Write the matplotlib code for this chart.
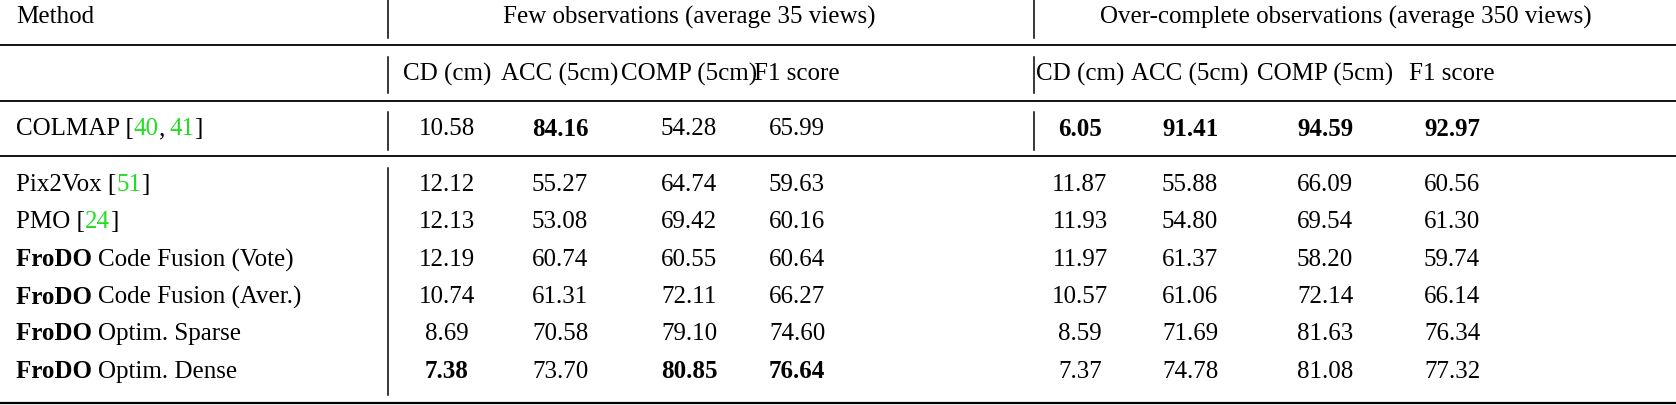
import matplotlib.pyplot as plt

methods = ["COLMAP", "Pix2Vox", "PMO", "Code Fusion (Vote)", "Code Fusion (Aver.)",
           "Optim. Sparse", "Optim. Dense"]
refs = [["40", "41"], ["51"], ["24"], None, None, None, None]
frodo = [False, False, False, True, True, True, True]
cols = ["CD (cm)", "ACC (5cm)", "COMP (5cm)", "F1 score"] * 2
groups = ["Few observations (average 35 views)",
          "Over-complete observations (average 350 views)"]
values = [
    [10.58, 84.16, 54.28, 65.99, 6.05, 91.41, 94.59, 92.97],
    [12.12, 55.27, 64.74, 59.63, 11.87, 55.88, 66.09, 60.56],
    [12.13, 53.08, 69.42, 60.16, 11.93, 54.80, 69.54, 61.30],
    [12.19, 60.74, 60.55, 60.64, 11.97, 61.37, 58.20, 59.74],
    [10.74, 61.31, 72.11, 66.27, 10.57, 61.06, 72.14, 66.14],
    [8.69, 70.58, 79.10, 74.60, 8.59, 71.69, 81.63, 76.34],
    [7.38, 73.70, 80.85, 76.64, 7.37, 74.78, 81.08, 77.32],
]
bold = {(0, 1), (0, 4), (0, 5), (0, 6), (0, 7), (6, 0), (6, 2), (6, 3)}

W, H = 1676, 405
fig = plt.figure(figsize=(W / 100, H / 100), dpi=100)
ax = fig.add_axes([0, 0, 1, 1])
ax.set_xlim(0, W)
ax.set_ylim(H, 0)
ax.axis("off")
plt.rcParams["font.family"] = "Liberation Serif"
fs = 18
green = "#22dd22"

col_x = [447, 560, 689, 797, 1080, 1190, 1325, 1452]
row_y = [129, 185, 222, 260, 297, 334, 372]
div1, div2 = 388, 1034

ax.text(16, 17, "Method", fontsize=fs, va="center")
ax.text(689, 17, groups[0], fontsize=fs, va="center", ha="center")
ax.text(1346, 17, groups[1], fontsize=fs, va="center", ha="center")
for x, c in zip(col_x, cols):
    ax.text(x, 74, c, fontsize=fs, va="center", ha="center")

for y in [45, 101, 156]:
    ax.plot([0, W], [y, y], color="black", lw=1.3)
ax.plot([0, W], [403, 403], color="black", lw=1.6)

# vertical dividers
for x in [div1, div2]:
    for y0, y1 in [(0, 38), (57, 93), (112, 150)]:
        ax.plot([x, x], [y0, y1], color="black", lw=1.1)
ax.plot([div1, div1], [168, 395], color="black", lw=1.1)

fig.canvas.draw()
r = fig.canvas.get_renderer()
inv = ax.transData.inverted()

for i, m in enumerate(methods):
    y = row_y[i]
    x = 16
    parts = []
    if frodo[i]:
        parts.append(("FroDO ", "black", "bold"))
    parts.append((m + (" [" if refs[i] else ""), "black", "normal"))
    if refs[i]:
        for k, rf in enumerate(refs[i]):
            parts.append((rf, green, "normal"))
            if k < len(refs[i]) - 1:
                parts.append((",", "black", "normal"))
        parts.append(("]", "black", "normal"))
    for s, c, w in parts:
        t = ax.text(x, y, s, fontsize=fs, va="center", color=c, fontweight=w)
        bb = t.get_window_extent(r)
        x = inv.transform((bb.x1, bb.y0))[0]
        if s == ",":
            x += 4
    for j, v in enumerate(values[i]):
        ax.text(col_x[j], y, f"{v:.2f}", fontsize=fs, va="center", ha="center",
                fontweight="bold" if (i, j) in bold else "normal")

fig.savefig("out.png", dpi=100)
